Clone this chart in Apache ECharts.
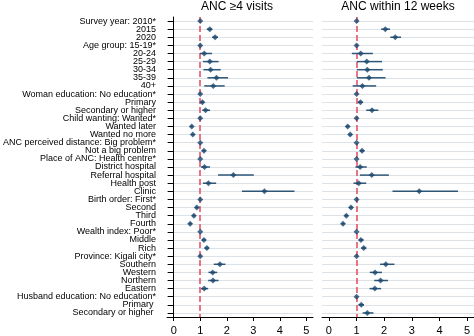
<!DOCTYPE html>
<html>
<head>
<meta charset="utf-8">
<script src="https://cdn.jsdelivr.net/npm/echarts@6/dist/echarts.min.js"></script>
<style>
html,body{margin:0;padding:0;background:#fff;}
#chart{width:474px;height:336px;}
</style>
</head>
<body>
<div id="chart"></div>
<script>
const categories = [
  "Survey year: 2010*", "2015", "2020",
  "Age group: 15-19*", "20-24", "25-29", "30-34", "35-39", "40+",
  "Woman education: No education*", "Primary", "Secondary or higher",
  "Child wanting: Wanted*", "Wanted later", "Wanted no more",
  "ANC perceived distance: Big problem*", "Not a big problem",
  "Place of ANC: Health centre*", "District hospital", "Referral hospital", "Health post", "Clinic",
  "Birth order: First*", "Second", "Third", "Fourth",
  "Wealth index: Poor*", "Middle", "Rich",
  "Province: Kigali city*", "Southern", "Western", "Northern", "Eastern",
  "Husband education: No education*", "Primary ", "Secondary or higher "
];
const titles = ["ANC \u22654 visits", "ANC within 12 weeks"];
const xTicks = [0, 1, 2, 3, 4, 5];

// ANC >=4 visits
const est4 = [1, 1.36, 1.56, 1, 1.15, 1.36, 1.39, 1.61, 1.49, 1, 1.08, 1.2, 1, 0.68, 0.72, 1, 1.14, 1, 1.16, 2.25, 1.31, 3.42, 1, 0.87, 0.76, 0.62, 1, 1.14, 1.25, 1, 1.74, 1.47, 1.48, 1.15, null, null, null];
const lo4  = [null, 1.25, 1.45, null, 0.99, 1.10, 1.12, 1.27, 1.15, null, 1.01, 1.08, null, 0.63, 0.67, null, 1.08, null, 1.03, 1.67, 1.10, 2.57, null, 0.81, 0.70, 0.57, null, 1.07, 1.17, null, 1.51, 1.31, 1.30, 1.03, null, null, null];
const hi4  = [null, 1.45, 1.67, null, 1.44, 1.69, 1.77, 2.05, 1.92, null, 1.15, 1.37, null, 0.72, 0.77, null, 1.20, null, 1.37, 3.02, 1.60, 4.55, null, 0.93, 0.82, 0.68, null, 1.21, 1.33, null, 1.95, 1.64, 1.69, 1.30, null, null, null];

// ANC within 12 weeks
const est12 = [1, 2.04, 2.40, 1, 1.15, 1.37, 1.39, 1.45, 1.21, 1, 1.14, 1.56, 1, 0.68, 0.77, 1, 1.20, 1, 1.13, 1.55, 1.08, 3.27, 1, 0.80, 0.63, 0.51, 1, 1.16, 1.26, 1, 2.06, 1.67, 1.87, 1.66, 1, 1.17, 1.39];
const lo12  = [null, 1.89, 2.22, null, 0.83, 1.01, 1.01, 1.01, 0.86, null, 1.05, 1.35, null, 0.62, 0.71, null, 1.12, null, 0.96, 1.12, 0.89, 2.30, null, 0.73, 0.57, 0.46, null, 1.08, 1.17, null, 1.85, 1.48, 1.64, 1.47, null, 1.07, 1.22];
const hi12  = [null, 2.21, 2.61, null, 1.59, 1.92, 1.95, 2.05, 1.71, null, 1.22, 1.79, null, 0.74, 0.83, null, 1.28, null, 1.37, 2.17, 1.35, 4.67, null, 0.87, 0.70, 0.56, null, 1.25, 1.35, null, 2.37, 1.92, 2.14, 1.89, null, 1.27, 1.61];

const FONT = "'Liberation Sans', Arial, sans-serif";
const NAVY = "#1a476f";
const GRIDLINE = "#dde2e6";

function ciData(lo, hi) {
  const out = [];
  lo.forEach((l, i) => { if (l != null && hi[i] != null) out.push([l, hi[i], i]); });
  return out;
}
function ptData(est) {
  const out = [];
  est.forEach((v, i) => { if (v != null) out.push([v, i]); });
  return out;
}

function xAxisCfg(idx) {
  return {
    type: 'value', gridIndex: idx, min: -0.25, max: 5.25,
    axisLine: { show: true, onZero: false, lineStyle: { color: '#000', width: 1 } },
    axisTick: { show: true, length: 4, customValues: xTicks, lineStyle: { color: '#000' } },
    axisLabel: { customValues: xTicks, color: '#000', fontSize: 11, fontFamily: FONT, margin: 8 },
    splitLine: { show: false }
  };
}
function yAxisCfg(idx, showLabels) {
  return {
    type: 'category', gridIndex: idx, data: categories, inverse: true,
    axisLine: { show: showLabels, lineStyle: { color: '#000', width: 1 } },
    axisTick: { show: showLabels, alignWithLabel: true, length: 6, lineStyle: { color: '#000' } },
    axisLabel: { show: showLabels, color: '#000', fontSize: 9, fontFamily: FONT, margin: 11, interval: 0 },
    splitLine: { show: true, alignWithLabel: true, interval: 0, lineStyle: { color: GRIDLINE, width: 1 } }
  };
}
function ciSeries(idx, lo, hi) {
  return {
    type: 'custom', xAxisIndex: idx, yAxisIndex: idx, z: 3,
    data: ciData(lo, hi),
    encode: { x: [0, 1], y: 2 },
    renderItem: function (params, api) {
      const a = api.coord([api.value(0), api.value(2)]);
      const b = api.coord([api.value(1), api.value(2)]);
      return { type: 'line', shape: { x1: a[0], y1: a[1], x2: b[0], y2: b[1] },
               style: { stroke: '#2e5677', lineWidth: 1.5 } };
    }
  };
}
function ptSeries(idx, est) {
  return {
    type: 'scatter', xAxisIndex: idx, yAxisIndex: idx, z: 5,
    data: ptData(est), symbol: 'diamond', symbolSize: 6,
    itemStyle: { color: NAVY },
    markLine: {
      silent: true, symbol: 'none', z: 2,
      label: { show: false },
      lineStyle: { color: '#e24a5d', type: [6, 3], width: 1.5 },
      data: [{ xAxis: 1 }]
    }
  };
}

const chart = echarts.init(document.getElementById('chart'), null, { renderer: 'canvas' });
chart.setOption({
  animation: false,
  backgroundColor: '#fff',
  textStyle: { fontFamily: FONT },
  title: [
    { text: titles[0], left: 237, top: 0, padding: 0, textAlign: 'center',
      textStyle: { fontSize: 12, fontWeight: 'normal', color: '#000', fontFamily: FONT, lineHeight: 14 } },
    { text: titles[1], left: 398, top: 0, padding: 0, textAlign: 'center',
      textStyle: { fontSize: 12, fontWeight: 'normal', color: '#000', fontFamily: FONT, lineHeight: 14 } }
  ],
  grid: [
    { left: 162, right: 161, top: 17, bottom: 17 },
    { left: 322, right: 0, top: 17, bottom: 17 }
  ],
  xAxis: [xAxisCfg(0), xAxisCfg(1)],
  yAxis: [yAxisCfg(0, true), yAxisCfg(1, false)],
  series: [
    ciSeries(0, lo4, hi4), ptSeries(0, est4),
    ciSeries(1, lo12, hi12), ptSeries(1, est12)
  ]
});
</script>
</body>
</html>
